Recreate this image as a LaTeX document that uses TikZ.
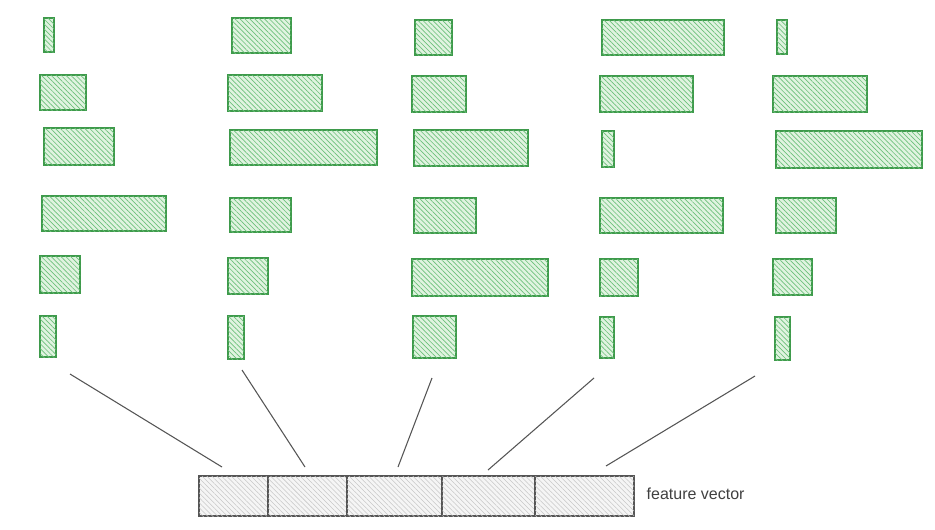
\documentclass[tikz,border=0pt]{standalone}
\usepackage{fontspec}
\setmainfont{Liberation Sans}
\usetikzlibrary{patterns.meta}
\definecolor{gr}{HTML}{3E9A4B}
\definecolor{grf}{HTML}{6CC07A}
\definecolor{ln}{HTML}{555555}
\tikzset{bar/.style={draw=gr,line width=0.9pt,fill=green!60!black!12,postaction={pattern={Lines[angle=-45,distance=2.6pt,line width=0.5pt]},pattern color=grf}},
cell/.style={draw=ln,line width=0.9pt,fill=black!4,postaction={pattern={Lines[angle=-45,distance=2.6pt,line width=0.4pt]},pattern color=black!22}},
conn/.style={draw=ln,line width=0.8pt}}
\begin{document}
\begin{tikzpicture}[x=0.75pt,y=-0.75pt]
\useasboundingbox (0,0) rectangle (935,529);
\foreach \a/\b/\c/\d in {44/18/54/52,40/75/86/110,44/128/114/165,42/196/166/231,40/256/80/293,40/316/56/357,
232/18/291/53,228/75/322/111,230/130/377/165,230/198/291/232,228/258/268/294,228/316/244/359,
415/20/452/55,412/76/466/112,414/130/528/166,414/198/476/233,412/259/548/296,413/316/456/358,
602/20/724/55,600/76/693/112,602/131/614/167,600/198/723/233,600/259/638/296,600/317/614/358,
777/20/787/54,773/76/867/112,776/131/922/168,776/198/836/233,773/259/812/295,775/317/790/360}
  \path[bar] (\a,\b) rectangle (\c,\d);
\foreach \a/\c [count=\i] in {199/268,268/347,347/442,442/535,535/634}
  \path[cell] (\a,476) rectangle (\c,516) coordinate (c\i);
\node[anchor=west,text=black!75,font=\fontsize{12}{14}\selectfont] (lbl) at (642,494) {feature vector};
\foreach \i/\x/\y/\u/\v in {1/70/374/222/467,2/242/370/305/467,3/432/378/398/467,4/594/378/488/470,5/755/376/606/466}{
  \coordinate (s\i) at (\x,\y); \coordinate (e\i) at (\u,\v);
  \draw[conn] (s\i) -- (e\i);}
\end{tikzpicture}
\end{document}
